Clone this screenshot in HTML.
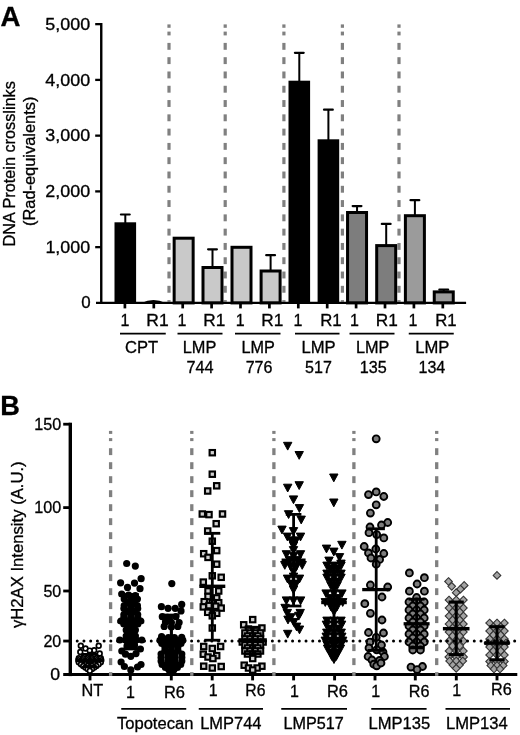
<!DOCTYPE html>
<html lang="en">
<head>
<meta charset="utf-8">
<title>Figure: DNA-protein crosslinks and gamma-H2AX intensity</title>
<style>
html,body{margin:0;padding:0;background:#fff;}
body{width:520px;height:735px;overflow:hidden;}
svg{display:block;}
svg text{font-family:"Liberation Sans",Arial,Helvetica,sans-serif;fill:#000;stroke:#000;stroke-width:0.3px;}
</style>
</head>
<body>
<svg width="520" height="735" viewBox="0 0 520 735">
<rect x="0" y="0" width="520" height="735" fill="#ffffff"/>
<g id="panelA">
<text x="0.46" y="25.70" font-size="27.5" font-weight="bold" textLength="19.94" lengthAdjust="spacingAndGlyphs">A</text>
<g fill="#808080">
<rect x="167.40" y="24.40" width="3.20" height="3.40" fill="#808080"/>
<rect x="167.40" y="31.60" width="3.20" height="3.80" fill="#808080"/>
<rect x="167.40" y="42.90" width="3.20" height="6.90" fill="#808080"/>
<rect x="167.40" y="57.19" width="3.20" height="6.90" fill="#808080"/>
<rect x="167.40" y="71.48" width="3.20" height="6.90" fill="#808080"/>
<rect x="167.40" y="85.77" width="3.20" height="6.90" fill="#808080"/>
<rect x="167.40" y="100.06" width="3.20" height="6.90" fill="#808080"/>
<rect x="167.40" y="114.35" width="3.20" height="6.90" fill="#808080"/>
<rect x="167.40" y="128.64" width="3.20" height="6.90" fill="#808080"/>
<rect x="167.40" y="142.93" width="3.20" height="6.90" fill="#808080"/>
<rect x="167.40" y="157.22" width="3.20" height="6.90" fill="#808080"/>
<rect x="167.40" y="171.51" width="3.20" height="6.90" fill="#808080"/>
<rect x="167.40" y="185.80" width="3.20" height="6.90" fill="#808080"/>
<rect x="167.40" y="200.09" width="3.20" height="6.90" fill="#808080"/>
<rect x="167.40" y="214.38" width="3.20" height="6.90" fill="#808080"/>
<rect x="167.40" y="228.67" width="3.20" height="6.90" fill="#808080"/>
<rect x="167.40" y="242.96" width="3.20" height="6.90" fill="#808080"/>
<rect x="167.40" y="257.25" width="3.20" height="6.90" fill="#808080"/>
<rect x="167.40" y="271.54" width="3.20" height="6.90" fill="#808080"/>
<rect x="167.40" y="285.83" width="3.20" height="6.90" fill="#808080"/>
<rect x="167.40" y="300.12" width="3.20" height="1.68" fill="#808080"/>
</g>
<g fill="#808080">
<rect x="223.60" y="24.40" width="3.20" height="3.40" fill="#808080"/>
<rect x="223.60" y="31.60" width="3.20" height="3.80" fill="#808080"/>
<rect x="223.60" y="42.90" width="3.20" height="6.90" fill="#808080"/>
<rect x="223.60" y="57.19" width="3.20" height="6.90" fill="#808080"/>
<rect x="223.60" y="71.48" width="3.20" height="6.90" fill="#808080"/>
<rect x="223.60" y="85.77" width="3.20" height="6.90" fill="#808080"/>
<rect x="223.60" y="100.06" width="3.20" height="6.90" fill="#808080"/>
<rect x="223.60" y="114.35" width="3.20" height="6.90" fill="#808080"/>
<rect x="223.60" y="128.64" width="3.20" height="6.90" fill="#808080"/>
<rect x="223.60" y="142.93" width="3.20" height="6.90" fill="#808080"/>
<rect x="223.60" y="157.22" width="3.20" height="6.90" fill="#808080"/>
<rect x="223.60" y="171.51" width="3.20" height="6.90" fill="#808080"/>
<rect x="223.60" y="185.80" width="3.20" height="6.90" fill="#808080"/>
<rect x="223.60" y="200.09" width="3.20" height="6.90" fill="#808080"/>
<rect x="223.60" y="214.38" width="3.20" height="6.90" fill="#808080"/>
<rect x="223.60" y="228.67" width="3.20" height="6.90" fill="#808080"/>
<rect x="223.60" y="242.96" width="3.20" height="6.90" fill="#808080"/>
<rect x="223.60" y="257.25" width="3.20" height="6.90" fill="#808080"/>
<rect x="223.60" y="271.54" width="3.20" height="6.90" fill="#808080"/>
<rect x="223.60" y="285.83" width="3.20" height="6.90" fill="#808080"/>
<rect x="223.60" y="300.12" width="3.20" height="1.68" fill="#808080"/>
</g>
<g fill="#808080">
<rect x="282.30" y="24.40" width="3.20" height="3.40" fill="#808080"/>
<rect x="282.30" y="31.60" width="3.20" height="3.80" fill="#808080"/>
<rect x="282.30" y="42.90" width="3.20" height="6.90" fill="#808080"/>
<rect x="282.30" y="57.19" width="3.20" height="6.90" fill="#808080"/>
<rect x="282.30" y="71.48" width="3.20" height="6.90" fill="#808080"/>
<rect x="282.30" y="85.77" width="3.20" height="6.90" fill="#808080"/>
<rect x="282.30" y="100.06" width="3.20" height="6.90" fill="#808080"/>
<rect x="282.30" y="114.35" width="3.20" height="6.90" fill="#808080"/>
<rect x="282.30" y="128.64" width="3.20" height="6.90" fill="#808080"/>
<rect x="282.30" y="142.93" width="3.20" height="6.90" fill="#808080"/>
<rect x="282.30" y="157.22" width="3.20" height="6.90" fill="#808080"/>
<rect x="282.30" y="171.51" width="3.20" height="6.90" fill="#808080"/>
<rect x="282.30" y="185.80" width="3.20" height="6.90" fill="#808080"/>
<rect x="282.30" y="200.09" width="3.20" height="6.90" fill="#808080"/>
<rect x="282.30" y="214.38" width="3.20" height="6.90" fill="#808080"/>
<rect x="282.30" y="228.67" width="3.20" height="6.90" fill="#808080"/>
<rect x="282.30" y="242.96" width="3.20" height="6.90" fill="#808080"/>
<rect x="282.30" y="257.25" width="3.20" height="6.90" fill="#808080"/>
<rect x="282.30" y="271.54" width="3.20" height="6.90" fill="#808080"/>
<rect x="282.30" y="285.83" width="3.20" height="6.90" fill="#808080"/>
<rect x="282.30" y="300.12" width="3.20" height="1.68" fill="#808080"/>
</g>
<g fill="#808080">
<rect x="340.80" y="24.40" width="3.20" height="3.40" fill="#808080"/>
<rect x="340.80" y="31.60" width="3.20" height="3.80" fill="#808080"/>
<rect x="340.80" y="42.90" width="3.20" height="6.90" fill="#808080"/>
<rect x="340.80" y="57.19" width="3.20" height="6.90" fill="#808080"/>
<rect x="340.80" y="71.48" width="3.20" height="6.90" fill="#808080"/>
<rect x="340.80" y="85.77" width="3.20" height="6.90" fill="#808080"/>
<rect x="340.80" y="100.06" width="3.20" height="6.90" fill="#808080"/>
<rect x="340.80" y="114.35" width="3.20" height="6.90" fill="#808080"/>
<rect x="340.80" y="128.64" width="3.20" height="6.90" fill="#808080"/>
<rect x="340.80" y="142.93" width="3.20" height="6.90" fill="#808080"/>
<rect x="340.80" y="157.22" width="3.20" height="6.90" fill="#808080"/>
<rect x="340.80" y="171.51" width="3.20" height="6.90" fill="#808080"/>
<rect x="340.80" y="185.80" width="3.20" height="6.90" fill="#808080"/>
<rect x="340.80" y="200.09" width="3.20" height="6.90" fill="#808080"/>
<rect x="340.80" y="214.38" width="3.20" height="6.90" fill="#808080"/>
<rect x="340.80" y="228.67" width="3.20" height="6.90" fill="#808080"/>
<rect x="340.80" y="242.96" width="3.20" height="6.90" fill="#808080"/>
<rect x="340.80" y="257.25" width="3.20" height="6.90" fill="#808080"/>
<rect x="340.80" y="271.54" width="3.20" height="6.90" fill="#808080"/>
<rect x="340.80" y="285.83" width="3.20" height="6.90" fill="#808080"/>
<rect x="340.80" y="300.12" width="3.20" height="1.68" fill="#808080"/>
</g>
<g fill="#808080">
<rect x="397.40" y="24.40" width="3.20" height="3.40" fill="#808080"/>
<rect x="397.40" y="31.60" width="3.20" height="3.80" fill="#808080"/>
<rect x="397.40" y="42.90" width="3.20" height="6.90" fill="#808080"/>
<rect x="397.40" y="57.19" width="3.20" height="6.90" fill="#808080"/>
<rect x="397.40" y="71.48" width="3.20" height="6.90" fill="#808080"/>
<rect x="397.40" y="85.77" width="3.20" height="6.90" fill="#808080"/>
<rect x="397.40" y="100.06" width="3.20" height="6.90" fill="#808080"/>
<rect x="397.40" y="114.35" width="3.20" height="6.90" fill="#808080"/>
<rect x="397.40" y="128.64" width="3.20" height="6.90" fill="#808080"/>
<rect x="397.40" y="142.93" width="3.20" height="6.90" fill="#808080"/>
<rect x="397.40" y="157.22" width="3.20" height="6.90" fill="#808080"/>
<rect x="397.40" y="171.51" width="3.20" height="6.90" fill="#808080"/>
<rect x="397.40" y="185.80" width="3.20" height="6.90" fill="#808080"/>
<rect x="397.40" y="200.09" width="3.20" height="6.90" fill="#808080"/>
<rect x="397.40" y="214.38" width="3.20" height="6.90" fill="#808080"/>
<rect x="397.40" y="228.67" width="3.20" height="6.90" fill="#808080"/>
<rect x="397.40" y="242.96" width="3.20" height="6.90" fill="#808080"/>
<rect x="397.40" y="257.25" width="3.20" height="6.90" fill="#808080"/>
<rect x="397.40" y="271.54" width="3.20" height="6.90" fill="#808080"/>
<rect x="397.40" y="285.83" width="3.20" height="6.90" fill="#808080"/>
<rect x="397.40" y="300.12" width="3.20" height="1.68" fill="#808080"/>
</g>
<line x1="125.30" y1="214.50" x2="125.30" y2="223.30" stroke="#000" stroke-width="2.0"/>
<line x1="120.90" y1="214.50" x2="129.70" y2="214.50" stroke="#000" stroke-width="2.2" stroke-linecap="round"/>
<rect x="114.50" y="222.30" width="21.60" height="80.60" fill="#000"/>
<path d="M141.5 302.9Q147.5 299.9 153.5 299.9Q159.5 299.9 165.5 302.9Z" fill="#000"/>
<rect x="174.15" y="238.20" width="19.00" height="64.70" fill="#c9c9c9" stroke="#000" stroke-width="3.0"/>
<line x1="212.50" y1="249.30" x2="212.50" y2="267.00" stroke="#000" stroke-width="2.0"/>
<line x1="208.10" y1="249.30" x2="216.90" y2="249.30" stroke="#000" stroke-width="2.2" stroke-linecap="round"/>
<rect x="203.00" y="267.50" width="19.00" height="35.40" fill="#c9c9c9" stroke="#000" stroke-width="3.0"/>
<rect x="232.00" y="247.30" width="19.00" height="55.60" fill="#c9c9c9" stroke="#000" stroke-width="3.0"/>
<line x1="270.60" y1="255.20" x2="270.60" y2="270.50" stroke="#000" stroke-width="2.0"/>
<line x1="266.20" y1="255.20" x2="275.00" y2="255.20" stroke="#000" stroke-width="2.2" stroke-linecap="round"/>
<rect x="261.10" y="271.00" width="19.00" height="31.90" fill="#c9c9c9" stroke="#000" stroke-width="3.0"/>
<line x1="299.30" y1="52.80" x2="299.30" y2="81.70" stroke="#000" stroke-width="2.0"/>
<line x1="294.90" y1="52.80" x2="303.70" y2="52.80" stroke="#000" stroke-width="2.2" stroke-linecap="round"/>
<rect x="288.50" y="80.70" width="21.60" height="222.20" fill="#000"/>
<line x1="328.40" y1="109.70" x2="328.40" y2="140.30" stroke="#000" stroke-width="2.0"/>
<line x1="324.00" y1="109.70" x2="332.80" y2="109.70" stroke="#000" stroke-width="2.2" stroke-linecap="round"/>
<rect x="317.60" y="139.30" width="21.60" height="163.60" fill="#000"/>
<line x1="357.05" y1="206.10" x2="357.05" y2="212.00" stroke="#000" stroke-width="2.0"/>
<line x1="352.65" y1="206.10" x2="361.45" y2="206.10" stroke="#000" stroke-width="2.2" stroke-linecap="round"/>
<rect x="347.55" y="212.50" width="19.00" height="90.40" fill="#7d7d7d" stroke="#000" stroke-width="3.0"/>
<line x1="386.20" y1="223.90" x2="386.20" y2="245.10" stroke="#000" stroke-width="2.0"/>
<line x1="381.80" y1="223.90" x2="390.60" y2="223.90" stroke="#000" stroke-width="2.2" stroke-linecap="round"/>
<rect x="376.70" y="245.60" width="19.00" height="57.30" fill="#7d7d7d" stroke="#000" stroke-width="3.0"/>
<line x1="414.90" y1="200.20" x2="414.90" y2="215.20" stroke="#000" stroke-width="2.0"/>
<line x1="410.50" y1="200.20" x2="419.30" y2="200.20" stroke="#000" stroke-width="2.2" stroke-linecap="round"/>
<rect x="405.40" y="215.70" width="19.00" height="87.20" fill="#9b9b9b" stroke="#000" stroke-width="3.0"/>
<line x1="443.75" y1="289.70" x2="443.75" y2="291.40" stroke="#000" stroke-width="2.0"/>
<line x1="439.35" y1="289.70" x2="448.15" y2="289.70" stroke="#000" stroke-width="2.2" stroke-linecap="round"/>
<rect x="434.25" y="291.90" width="19.00" height="11.00" fill="#9b9b9b" stroke="#000" stroke-width="3.0"/>
<line x1="101.25" y1="23.00" x2="101.25" y2="304.10" stroke="#000" stroke-width="2.4"/>
<line x1="96.00" y1="302.90" x2="466.10" y2="302.90" stroke="#000" stroke-width="2.4"/>
<line x1="95.20" y1="247.15" x2="101.25" y2="247.15" stroke="#000" stroke-width="2.3"/>
<line x1="95.20" y1="191.40" x2="101.25" y2="191.40" stroke="#000" stroke-width="2.3"/>
<line x1="95.20" y1="135.65" x2="101.25" y2="135.65" stroke="#000" stroke-width="2.3"/>
<line x1="95.20" y1="79.90" x2="101.25" y2="79.90" stroke="#000" stroke-width="2.3"/>
<line x1="95.20" y1="24.15" x2="101.25" y2="24.15" stroke="#000" stroke-width="2.3"/>
<line x1="124.90" y1="302.90" x2="124.90" y2="308.40" stroke="#000" stroke-width="2.7"/>
<line x1="153.80" y1="302.90" x2="153.80" y2="308.40" stroke="#000" stroke-width="2.7"/>
<line x1="182.70" y1="302.90" x2="182.70" y2="308.40" stroke="#000" stroke-width="2.7"/>
<line x1="211.60" y1="302.90" x2="211.60" y2="308.40" stroke="#000" stroke-width="2.7"/>
<line x1="240.50" y1="302.90" x2="240.50" y2="308.40" stroke="#000" stroke-width="2.7"/>
<line x1="269.40" y1="302.90" x2="269.40" y2="308.40" stroke="#000" stroke-width="2.7"/>
<line x1="298.30" y1="302.90" x2="298.30" y2="308.40" stroke="#000" stroke-width="2.7"/>
<line x1="327.20" y1="302.90" x2="327.20" y2="308.40" stroke="#000" stroke-width="2.7"/>
<line x1="356.10" y1="302.90" x2="356.10" y2="308.40" stroke="#000" stroke-width="2.7"/>
<line x1="385.00" y1="302.90" x2="385.00" y2="308.40" stroke="#000" stroke-width="2.7"/>
<line x1="413.90" y1="302.90" x2="413.90" y2="308.40" stroke="#000" stroke-width="2.7"/>
<line x1="442.80" y1="302.90" x2="442.80" y2="308.40" stroke="#000" stroke-width="2.7"/>
<text x="81.28" y="308.30" font-size="16" textLength="9.39" lengthAdjust="spacingAndGlyphs">0</text>
<text x="45.41" y="252.85" font-size="16" textLength="44.71" lengthAdjust="spacingAndGlyphs">1,000</text>
<text x="45.39" y="197.10" font-size="16" textLength="44.73" lengthAdjust="spacingAndGlyphs">2,000</text>
<text x="45.39" y="141.35" font-size="16" textLength="44.73" lengthAdjust="spacingAndGlyphs">3,000</text>
<text x="45.39" y="85.60" font-size="16" textLength="44.73" lengthAdjust="spacingAndGlyphs">4,000</text>
<text x="45.39" y="29.85" font-size="16" textLength="44.73" lengthAdjust="spacingAndGlyphs">5,000</text>
<text transform="translate(15.30,245.30) rotate(-90)" x="-1.30" y="0" font-size="16" textLength="165.47" lengthAdjust="spacingAndGlyphs">DNA Protein crosslinks</text>
<text transform="translate(34.60,225.00) rotate(-90)" x="-0.98" y="0" font-size="16" textLength="129.31" lengthAdjust="spacingAndGlyphs">(Rad-equivalents)</text>
<text x="120.52" y="325.75" font-size="16" textLength="8.90" lengthAdjust="spacingAndGlyphs">1</text>
<text x="177.39" y="325.75" font-size="16" textLength="8.90" lengthAdjust="spacingAndGlyphs">1</text>
<text x="235.64" y="325.75" font-size="16" textLength="8.90" lengthAdjust="spacingAndGlyphs">1</text>
<text x="293.39" y="325.75" font-size="16" textLength="8.90" lengthAdjust="spacingAndGlyphs">1</text>
<text x="349.89" y="325.75" font-size="16" textLength="8.90" lengthAdjust="spacingAndGlyphs">1</text>
<text x="408.39" y="325.75" font-size="16" textLength="8.90" lengthAdjust="spacingAndGlyphs">1</text>
<text x="146.35" y="325.75" font-size="16" textLength="22.35" lengthAdjust="spacingAndGlyphs">R1</text>
<text x="203.37" y="325.75" font-size="16" textLength="22.03" lengthAdjust="spacingAndGlyphs">R1</text>
<text x="261.37" y="325.75" font-size="16" textLength="22.03" lengthAdjust="spacingAndGlyphs">R1</text>
<text x="320.16" y="325.75" font-size="16" textLength="21.40" lengthAdjust="spacingAndGlyphs">R1</text>
<text x="375.87" y="325.75" font-size="16" textLength="22.03" lengthAdjust="spacingAndGlyphs">R1</text>
<text x="435.16" y="325.75" font-size="16" textLength="21.40" lengthAdjust="spacingAndGlyphs">R1</text>
<line x1="120.00" y1="333.60" x2="165.75" y2="333.60" stroke="#000" stroke-width="1.7"/>
<line x1="177.50" y1="333.60" x2="222.50" y2="333.60" stroke="#000" stroke-width="1.7"/>
<line x1="235.00" y1="333.60" x2="280.50" y2="333.60" stroke="#000" stroke-width="1.7"/>
<line x1="295.00" y1="333.60" x2="339.50" y2="333.60" stroke="#000" stroke-width="1.7"/>
<line x1="349.50" y1="333.60" x2="394.50" y2="333.60" stroke="#000" stroke-width="1.7"/>
<line x1="408.75" y1="333.60" x2="453.75" y2="333.60" stroke="#000" stroke-width="1.7"/>
<text x="124.92" y="352.60" font-size="16" textLength="33.16" lengthAdjust="spacingAndGlyphs">CPT</text>
<text x="182.69" y="352.60" font-size="16" textLength="33.65" lengthAdjust="spacingAndGlyphs">LMP</text>
<text x="241.45" y="352.60" font-size="16" textLength="33.38" lengthAdjust="spacingAndGlyphs">LMP</text>
<text x="301.42" y="352.60" font-size="16" textLength="34.18" lengthAdjust="spacingAndGlyphs">LMP</text>
<text x="355.95" y="352.60" font-size="16" textLength="33.38" lengthAdjust="spacingAndGlyphs">LMP</text>
<text x="415.17" y="352.60" font-size="16" textLength="34.18" lengthAdjust="spacingAndGlyphs">LMP</text>
<text x="186.44" y="372.50" font-size="16" textLength="27.11" lengthAdjust="spacingAndGlyphs">744</text>
<text x="245.70" y="372.50" font-size="16" textLength="26.75" lengthAdjust="spacingAndGlyphs">776</text>
<text x="305.11" y="372.50" font-size="16" textLength="26.75" lengthAdjust="spacingAndGlyphs">517</text>
<text x="359.74" y="372.50" font-size="16" textLength="26.96" lengthAdjust="spacingAndGlyphs">135</text>
<text x="418.50" y="372.50" font-size="16" textLength="26.79" lengthAdjust="spacingAndGlyphs">134</text>
</g>
<g id="panelB">
<text x="0.28" y="414.50" font-size="27.5" font-weight="bold" textLength="19.65" lengthAdjust="spacingAndGlyphs">B</text>
<g fill="#808080">
<rect x="108.95" y="430.90" width="3.30" height="3.00" fill="#808080"/>
<rect x="108.95" y="438.10" width="3.30" height="3.00" fill="#808080"/>
<rect x="108.95" y="448.20" width="3.30" height="6.90" fill="#808080"/>
<rect x="108.95" y="462.20" width="3.30" height="6.90" fill="#808080"/>
<rect x="108.95" y="476.20" width="3.30" height="6.90" fill="#808080"/>
<rect x="108.95" y="490.20" width="3.30" height="6.90" fill="#808080"/>
<rect x="108.95" y="504.20" width="3.30" height="6.90" fill="#808080"/>
<rect x="108.95" y="518.20" width="3.30" height="6.90" fill="#808080"/>
<rect x="108.95" y="532.20" width="3.30" height="6.90" fill="#808080"/>
<rect x="108.95" y="546.20" width="3.30" height="6.90" fill="#808080"/>
<rect x="108.95" y="560.20" width="3.30" height="6.90" fill="#808080"/>
<rect x="108.95" y="574.20" width="3.30" height="6.90" fill="#808080"/>
<rect x="108.95" y="588.20" width="3.30" height="6.90" fill="#808080"/>
<rect x="108.95" y="602.20" width="3.30" height="6.90" fill="#808080"/>
<rect x="108.95" y="616.20" width="3.30" height="6.90" fill="#808080"/>
<rect x="108.95" y="630.20" width="3.30" height="6.90" fill="#808080"/>
<rect x="108.95" y="644.20" width="3.30" height="6.90" fill="#808080"/>
<rect x="108.95" y="658.20" width="3.30" height="6.90" fill="#808080"/>
<rect x="108.95" y="672.20" width="3.30" height="0.70" fill="#808080"/>
</g>
<g fill="#808080">
<rect x="190.15" y="430.90" width="3.30" height="3.00" fill="#808080"/>
<rect x="190.15" y="438.10" width="3.30" height="3.00" fill="#808080"/>
<rect x="190.15" y="448.20" width="3.30" height="6.90" fill="#808080"/>
<rect x="190.15" y="462.20" width="3.30" height="6.90" fill="#808080"/>
<rect x="190.15" y="476.20" width="3.30" height="6.90" fill="#808080"/>
<rect x="190.15" y="490.20" width="3.30" height="6.90" fill="#808080"/>
<rect x="190.15" y="504.20" width="3.30" height="6.90" fill="#808080"/>
<rect x="190.15" y="518.20" width="3.30" height="6.90" fill="#808080"/>
<rect x="190.15" y="532.20" width="3.30" height="6.90" fill="#808080"/>
<rect x="190.15" y="546.20" width="3.30" height="6.90" fill="#808080"/>
<rect x="190.15" y="560.20" width="3.30" height="6.90" fill="#808080"/>
<rect x="190.15" y="574.20" width="3.30" height="6.90" fill="#808080"/>
<rect x="190.15" y="588.20" width="3.30" height="6.90" fill="#808080"/>
<rect x="190.15" y="602.20" width="3.30" height="6.90" fill="#808080"/>
<rect x="190.15" y="616.20" width="3.30" height="6.90" fill="#808080"/>
<rect x="190.15" y="630.20" width="3.30" height="6.90" fill="#808080"/>
<rect x="190.15" y="644.20" width="3.30" height="6.90" fill="#808080"/>
<rect x="190.15" y="658.20" width="3.30" height="6.90" fill="#808080"/>
<rect x="190.15" y="672.20" width="3.30" height="0.70" fill="#808080"/>
</g>
<g fill="#808080">
<rect x="272.25" y="430.90" width="3.30" height="3.00" fill="#808080"/>
<rect x="272.25" y="438.10" width="3.30" height="3.00" fill="#808080"/>
<rect x="272.25" y="448.20" width="3.30" height="6.90" fill="#808080"/>
<rect x="272.25" y="462.20" width="3.30" height="6.90" fill="#808080"/>
<rect x="272.25" y="476.20" width="3.30" height="6.90" fill="#808080"/>
<rect x="272.25" y="490.20" width="3.30" height="6.90" fill="#808080"/>
<rect x="272.25" y="504.20" width="3.30" height="6.90" fill="#808080"/>
<rect x="272.25" y="518.20" width="3.30" height="6.90" fill="#808080"/>
<rect x="272.25" y="532.20" width="3.30" height="6.90" fill="#808080"/>
<rect x="272.25" y="546.20" width="3.30" height="6.90" fill="#808080"/>
<rect x="272.25" y="560.20" width="3.30" height="6.90" fill="#808080"/>
<rect x="272.25" y="574.20" width="3.30" height="6.90" fill="#808080"/>
<rect x="272.25" y="588.20" width="3.30" height="6.90" fill="#808080"/>
<rect x="272.25" y="602.20" width="3.30" height="6.90" fill="#808080"/>
<rect x="272.25" y="616.20" width="3.30" height="6.90" fill="#808080"/>
<rect x="272.25" y="630.20" width="3.30" height="6.90" fill="#808080"/>
<rect x="272.25" y="644.20" width="3.30" height="6.90" fill="#808080"/>
<rect x="272.25" y="658.20" width="3.30" height="6.90" fill="#808080"/>
<rect x="272.25" y="672.20" width="3.30" height="0.70" fill="#808080"/>
</g>
<g fill="#808080">
<rect x="352.25" y="430.90" width="3.30" height="3.00" fill="#808080"/>
<rect x="352.25" y="438.10" width="3.30" height="3.00" fill="#808080"/>
<rect x="352.25" y="448.20" width="3.30" height="6.90" fill="#808080"/>
<rect x="352.25" y="462.20" width="3.30" height="6.90" fill="#808080"/>
<rect x="352.25" y="476.20" width="3.30" height="6.90" fill="#808080"/>
<rect x="352.25" y="490.20" width="3.30" height="6.90" fill="#808080"/>
<rect x="352.25" y="504.20" width="3.30" height="6.90" fill="#808080"/>
<rect x="352.25" y="518.20" width="3.30" height="6.90" fill="#808080"/>
<rect x="352.25" y="532.20" width="3.30" height="6.90" fill="#808080"/>
<rect x="352.25" y="546.20" width="3.30" height="6.90" fill="#808080"/>
<rect x="352.25" y="560.20" width="3.30" height="6.90" fill="#808080"/>
<rect x="352.25" y="574.20" width="3.30" height="6.90" fill="#808080"/>
<rect x="352.25" y="588.20" width="3.30" height="6.90" fill="#808080"/>
<rect x="352.25" y="602.20" width="3.30" height="6.90" fill="#808080"/>
<rect x="352.25" y="616.20" width="3.30" height="6.90" fill="#808080"/>
<rect x="352.25" y="630.20" width="3.30" height="6.90" fill="#808080"/>
<rect x="352.25" y="644.20" width="3.30" height="6.90" fill="#808080"/>
<rect x="352.25" y="658.20" width="3.30" height="6.90" fill="#808080"/>
<rect x="352.25" y="672.20" width="3.30" height="0.70" fill="#808080"/>
</g>
<g fill="#808080">
<rect x="435.05" y="430.90" width="3.30" height="3.00" fill="#808080"/>
<rect x="435.05" y="438.10" width="3.30" height="3.00" fill="#808080"/>
<rect x="435.05" y="448.20" width="3.30" height="6.90" fill="#808080"/>
<rect x="435.05" y="462.20" width="3.30" height="6.90" fill="#808080"/>
<rect x="435.05" y="476.20" width="3.30" height="6.90" fill="#808080"/>
<rect x="435.05" y="490.20" width="3.30" height="6.90" fill="#808080"/>
<rect x="435.05" y="504.20" width="3.30" height="6.90" fill="#808080"/>
<rect x="435.05" y="518.20" width="3.30" height="6.90" fill="#808080"/>
<rect x="435.05" y="532.20" width="3.30" height="6.90" fill="#808080"/>
<rect x="435.05" y="546.20" width="3.30" height="6.90" fill="#808080"/>
<rect x="435.05" y="560.20" width="3.30" height="6.90" fill="#808080"/>
<rect x="435.05" y="574.20" width="3.30" height="6.90" fill="#808080"/>
<rect x="435.05" y="588.20" width="3.30" height="6.90" fill="#808080"/>
<rect x="435.05" y="602.20" width="3.30" height="6.90" fill="#808080"/>
<rect x="435.05" y="616.20" width="3.30" height="6.90" fill="#808080"/>
<rect x="435.05" y="630.20" width="3.30" height="6.90" fill="#808080"/>
<rect x="435.05" y="644.20" width="3.30" height="6.90" fill="#808080"/>
<rect x="435.05" y="658.20" width="3.30" height="6.90" fill="#808080"/>
<rect x="435.05" y="672.20" width="3.30" height="0.70" fill="#808080"/>
</g>
<g fill="#fff" stroke="#000" stroke-width="1.7">
<circle cx="80.8" cy="645.7" r="2.35"/>
<circle cx="98.7" cy="645.7" r="2.35"/>
<circle cx="85.5" cy="648.5" r="2.35"/>
<circle cx="94.2" cy="650.2" r="2.35"/>
<circle cx="89.7" cy="650.6" r="2.35"/>
<circle cx="80.3" cy="652.0" r="2.35"/>
<circle cx="99.7" cy="653.4" r="2.35"/>
<circle cx="84.1" cy="656.5" r="2.35"/>
<circle cx="94.2" cy="656.8" r="2.35"/>
<circle cx="89.7" cy="655.0" r="2.35"/>
<circle cx="78.8" cy="658.3" r="2.35"/>
<circle cx="83.2" cy="658.3" r="2.35"/>
<circle cx="87.6" cy="658.3" r="2.35"/>
<circle cx="92.0" cy="658.3" r="2.35"/>
<circle cx="96.4" cy="658.3" r="2.35"/>
<circle cx="100.8" cy="658.3" r="2.35"/>
<circle cx="78.3" cy="660.2" r="2.35"/>
<circle cx="82.9" cy="660.2" r="2.35"/>
<circle cx="87.5" cy="660.2" r="2.35"/>
<circle cx="92.1" cy="660.2" r="2.35"/>
<circle cx="96.7" cy="660.2" r="2.35"/>
<circle cx="101.3" cy="660.2" r="2.35"/>
<circle cx="78.8" cy="662.2" r="2.35"/>
<circle cx="83.2" cy="662.2" r="2.35"/>
<circle cx="87.6" cy="662.2" r="2.35"/>
<circle cx="92.0" cy="662.2" r="2.35"/>
<circle cx="96.4" cy="662.2" r="2.35"/>
<circle cx="100.8" cy="662.2" r="2.35"/>
<circle cx="81.0" cy="664.2" r="2.35"/>
<circle cx="85.4" cy="664.2" r="2.35"/>
<circle cx="89.8" cy="664.2" r="2.35"/>
<circle cx="94.2" cy="664.2" r="2.35"/>
<circle cx="98.6" cy="664.2" r="2.35"/>
<circle cx="83.2" cy="666.0" r="2.35"/>
<circle cx="87.6" cy="666.0" r="2.35"/>
<circle cx="92.0" cy="666.0" r="2.35"/>
<circle cx="96.4" cy="666.0" r="2.35"/>
<circle cx="85.4" cy="667.6" r="2.35"/>
<circle cx="89.8" cy="667.6" r="2.35"/>
<circle cx="94.2" cy="667.6" r="2.35"/>
<circle cx="87.6" cy="669.0" r="2.35"/>
<circle cx="92.0" cy="669.0" r="2.35"/>
<circle cx="89.8" cy="670.7" r="2.35"/>
</g>
<line x1="89.80" y1="654.20" x2="89.80" y2="667.00" stroke="#000" stroke-width="2.4"/>
<line x1="81.80" y1="654.20" x2="97.80" y2="654.20" stroke="#000" stroke-width="2.4"/>
<line x1="81.80" y1="667.00" x2="97.80" y2="667.00" stroke="#000" stroke-width="2.4"/>
<line x1="76.50" y1="660.60" x2="103.10" y2="660.60" stroke="#000" stroke-width="3.0"/>
<g fill="#000">
<circle cx="126.7" cy="563.5" r="3.6"/>
<circle cx="135.3" cy="566.1" r="3.6"/>
<circle cx="141.1" cy="578.7" r="3.6"/>
<circle cx="120.6" cy="582.8" r="3.6"/>
<circle cx="134.5" cy="583.1" r="3.6"/>
<circle cx="127.5" cy="587.4" r="3.6"/>
<circle cx="140.0" cy="588.7" r="3.6"/>
<circle cx="121.7" cy="594.0" r="3.6"/>
<circle cx="128.6" cy="595.0" r="3.6"/>
<circle cx="135.3" cy="595.5" r="3.6"/>
<circle cx="124.2" cy="599.0" r="3.6"/>
<circle cx="130.8" cy="599.0" r="3.6"/>
<circle cx="137.4" cy="599.0" r="3.6"/>
<circle cx="127.5" cy="602.5" r="3.6"/>
<circle cx="134.1" cy="602.5" r="3.6"/>
<circle cx="124.2" cy="605.5" r="3.6"/>
<circle cx="130.8" cy="605.5" r="3.6"/>
<circle cx="137.4" cy="605.5" r="3.6"/>
<circle cx="123.9" cy="608.5" r="3.6"/>
<circle cx="130.8" cy="608.5" r="3.6"/>
<circle cx="137.7" cy="608.5" r="3.6"/>
<circle cx="127.5" cy="611.5" r="3.6"/>
<circle cx="134.1" cy="611.5" r="3.6"/>
<circle cx="123.9" cy="614.5" r="3.6"/>
<circle cx="130.8" cy="614.5" r="3.6"/>
<circle cx="137.7" cy="614.5" r="3.6"/>
<circle cx="123.9" cy="617.5" r="3.6"/>
<circle cx="130.8" cy="617.5" r="3.6"/>
<circle cx="137.7" cy="617.5" r="3.6"/>
<circle cx="120.9" cy="621.0" r="3.6"/>
<circle cx="127.5" cy="621.0" r="3.6"/>
<circle cx="134.1" cy="621.0" r="3.6"/>
<circle cx="140.7" cy="621.0" r="3.6"/>
<circle cx="123.8" cy="624.0" r="3.6"/>
<circle cx="130.8" cy="624.0" r="3.6"/>
<circle cx="137.8" cy="624.0" r="3.6"/>
<circle cx="127.8" cy="627.0" r="3.6"/>
<circle cx="133.8" cy="627.0" r="3.6"/>
<circle cx="126.2" cy="630.0" r="3.6"/>
<circle cx="130.8" cy="630.0" r="3.6"/>
<circle cx="135.4" cy="630.0" r="3.6"/>
<circle cx="127.8" cy="633.0" r="3.6"/>
<circle cx="133.8" cy="633.0" r="3.6"/>
<circle cx="126.2" cy="636.0" r="3.6"/>
<circle cx="130.8" cy="636.0" r="3.6"/>
<circle cx="135.4" cy="636.0" r="3.6"/>
<circle cx="119.8" cy="640.0" r="3.6"/>
<circle cx="125.3" cy="640.0" r="3.6"/>
<circle cx="130.8" cy="640.0" r="3.6"/>
<circle cx="136.3" cy="640.0" r="3.6"/>
<circle cx="141.8" cy="640.0" r="3.6"/>
<circle cx="127.8" cy="643.5" r="3.6"/>
<circle cx="133.8" cy="643.5" r="3.6"/>
<circle cx="127.0" cy="646.0" r="3.6"/>
<circle cx="134.5" cy="645.2" r="3.6"/>
<circle cx="121.8" cy="651.0" r="3.6"/>
<circle cx="140.4" cy="649.0" r="3.6"/>
<circle cx="125.5" cy="654.2" r="3.6"/>
<circle cx="136.0" cy="653.6" r="3.6"/>
<circle cx="130.8" cy="656.3" r="3.6"/>
<circle cx="121.1" cy="662.0" r="3.6"/>
<circle cx="141.0" cy="664.5" r="3.6"/>
<circle cx="124.4" cy="666.5" r="3.6"/>
<circle cx="137.5" cy="667.0" r="3.6"/>
<circle cx="130.8" cy="669.9" r="3.6"/>
</g>
<line x1="130.80" y1="594.50" x2="130.80" y2="649.00" stroke="#000" stroke-width="2.8"/>
<line x1="122.80" y1="594.50" x2="138.80" y2="594.50" stroke="#000" stroke-width="2.8"/>
<line x1="122.80" y1="649.00" x2="138.80" y2="649.00" stroke="#000" stroke-width="2.8"/>
<line x1="117.40" y1="621.70" x2="144.20" y2="621.70" stroke="#000" stroke-width="3.2"/>
<g fill="#000">
<circle cx="171.8" cy="583.6" r="3.6"/>
<circle cx="181.7" cy="604.4" r="3.6"/>
<circle cx="161.4" cy="606.7" r="3.6"/>
<circle cx="168.1" cy="608.3" r="3.6"/>
<circle cx="175.2" cy="608.3" r="3.6"/>
<circle cx="181.0" cy="610.9" r="3.6"/>
<circle cx="162.3" cy="616.7" r="3.6"/>
<circle cx="167.5" cy="617.3" r="3.6"/>
<circle cx="175.9" cy="616.7" r="3.6"/>
<circle cx="165.5" cy="621.9" r="3.6"/>
<circle cx="171.4" cy="622.5" r="3.6"/>
<circle cx="179.1" cy="622.5" r="3.6"/>
<circle cx="164.2" cy="626.4" r="3.6"/>
<circle cx="171.4" cy="627.0" r="3.6"/>
<circle cx="177.8" cy="626.4" r="3.6"/>
<circle cx="161.6" cy="636.7" r="3.6"/>
<circle cx="181.7" cy="637.4" r="3.6"/>
<circle cx="168.4" cy="637.5" r="3.6"/>
<circle cx="174.4" cy="637.5" r="3.6"/>
<circle cx="160.0" cy="640.3" r="3.6"/>
<circle cx="165.7" cy="640.3" r="3.6"/>
<circle cx="171.4" cy="640.3" r="3.6"/>
<circle cx="177.1" cy="640.3" r="3.6"/>
<circle cx="182.8" cy="640.3" r="3.6"/>
<circle cx="161.8" cy="643.5" r="3.6"/>
<circle cx="168.2" cy="643.5" r="3.6"/>
<circle cx="174.6" cy="643.5" r="3.6"/>
<circle cx="181.0" cy="643.5" r="3.6"/>
<circle cx="164.9" cy="647.0" r="3.6"/>
<circle cx="171.4" cy="647.0" r="3.6"/>
<circle cx="177.9" cy="647.0" r="3.6"/>
<circle cx="164.9" cy="650.5" r="3.6"/>
<circle cx="171.4" cy="650.5" r="3.6"/>
<circle cx="177.9" cy="650.5" r="3.6"/>
<circle cx="161.1" cy="654.0" r="3.6"/>
<circle cx="168.0" cy="654.0" r="3.6"/>
<circle cx="174.8" cy="654.0" r="3.6"/>
<circle cx="181.8" cy="654.0" r="3.6"/>
<circle cx="161.1" cy="657.5" r="3.6"/>
<circle cx="168.0" cy="657.5" r="3.6"/>
<circle cx="174.8" cy="657.5" r="3.6"/>
<circle cx="181.8" cy="657.5" r="3.6"/>
<circle cx="161.1" cy="661.0" r="3.6"/>
<circle cx="168.0" cy="661.0" r="3.6"/>
<circle cx="174.8" cy="661.0" r="3.6"/>
<circle cx="181.8" cy="661.0" r="3.6"/>
<circle cx="162.1" cy="664.5" r="3.6"/>
<circle cx="168.3" cy="664.5" r="3.6"/>
<circle cx="174.5" cy="664.5" r="3.6"/>
<circle cx="180.7" cy="664.5" r="3.6"/>
<circle cx="165.4" cy="667.5" r="3.6"/>
<circle cx="171.4" cy="667.5" r="3.6"/>
<circle cx="177.4" cy="667.5" r="3.6"/>
<circle cx="168.9" cy="669.8" r="3.6"/>
<circle cx="173.9" cy="669.8" r="3.6"/>
<circle cx="171.4" cy="671.2" r="3.6"/>
</g>
<line x1="171.40" y1="615.20" x2="171.40" y2="665.40" stroke="#000" stroke-width="3.1"/>
<line x1="163.40" y1="615.20" x2="179.40" y2="615.20" stroke="#000" stroke-width="3.1"/>
<line x1="163.40" y1="665.40" x2="179.40" y2="665.40" stroke="#000" stroke-width="3.1"/>
<line x1="157.10" y1="640.30" x2="185.70" y2="640.30" stroke="#000" stroke-width="3.2"/>
<g fill="#cfcfcf" stroke="#000" stroke-width="2.1">
<rect x="209.6" y="450.0" width="5.4" height="5.4"/>
<rect x="209.6" y="471.5" width="5.4" height="5.4"/>
<rect x="214.0" y="483.1" width="5.4" height="5.4"/>
<rect x="205.0" y="488.3" width="5.4" height="5.4"/>
<rect x="199.6" y="511.3" width="5.4" height="5.4"/>
<rect x="206.3" y="511.9" width="5.4" height="5.4"/>
<rect x="219.8" y="511.3" width="5.4" height="5.4"/>
<rect x="213.5" y="521.0" width="5.4" height="5.4"/>
<rect x="205.0" y="528.3" width="5.4" height="5.4"/>
<rect x="209.6" y="538.5" width="5.4" height="5.4"/>
<rect x="214.0" y="547.9" width="5.4" height="5.4"/>
<rect x="201.0" y="551.0" width="5.4" height="5.4"/>
<rect x="205.3" y="554.7" width="5.4" height="5.4"/>
<rect x="214.0" y="561.5" width="5.4" height="5.4"/>
<rect x="209.6" y="573.1" width="5.4" height="5.4"/>
<rect x="218.5" y="574.6" width="5.4" height="5.4"/>
<rect x="200.6" y="579.4" width="5.4" height="5.4"/>
<rect x="205.3" y="588.3" width="5.4" height="5.4"/>
<rect x="216.0" y="588.3" width="5.4" height="5.4"/>
<rect x="205.3" y="593.8" width="5.4" height="5.4"/>
<rect x="214.0" y="595.2" width="5.4" height="5.4"/>
<rect x="201.5" y="599.0" width="5.4" height="5.4"/>
<rect x="209.6" y="600.0" width="5.4" height="5.4"/>
<rect x="216.0" y="600.0" width="5.4" height="5.4"/>
<rect x="200.6" y="604.2" width="5.4" height="5.4"/>
<rect x="206.3" y="602.9" width="5.4" height="5.4"/>
<rect x="213.1" y="603.5" width="5.4" height="5.4"/>
<rect x="218.5" y="605.4" width="5.4" height="5.4"/>
<rect x="205.0" y="609.6" width="5.4" height="5.4"/>
<rect x="214.0" y="610.6" width="5.4" height="5.4"/>
<rect x="209.6" y="613.1" width="5.4" height="5.4"/>
<rect x="209.6" y="625.3" width="5.4" height="5.4"/>
<rect x="201.0" y="643.8" width="5.4" height="5.4"/>
<rect x="209.6" y="645.8" width="5.4" height="5.4"/>
<rect x="217.9" y="643.8" width="5.4" height="5.4"/>
<rect x="200.6" y="651.5" width="5.4" height="5.4"/>
<rect x="214.0" y="652.9" width="5.4" height="5.4"/>
<rect x="205.3" y="654.3" width="5.4" height="5.4"/>
<rect x="210.2" y="655.8" width="5.4" height="5.4"/>
<rect x="201.0" y="663.5" width="5.4" height="5.4"/>
<rect x="209.6" y="665.3" width="5.4" height="5.4"/>
<rect x="218.5" y="663.8" width="5.4" height="5.4"/>
</g>
<line x1="212.30" y1="533.30" x2="212.30" y2="640.20" stroke="#000" stroke-width="2.8"/>
<line x1="204.30" y1="533.30" x2="220.30" y2="533.30" stroke="#000" stroke-width="2.8"/>
<line x1="204.30" y1="640.20" x2="220.30" y2="640.20" stroke="#000" stroke-width="2.8"/>
<line x1="199.30" y1="586.30" x2="225.30" y2="586.30" stroke="#000" stroke-width="3.4"/>
<g fill="#cfcfcf" stroke="#000" stroke-width="2.1">
<rect x="250.0" y="616.9" width="5.4" height="5.4"/>
<rect x="241.0" y="622.1" width="5.4" height="5.4"/>
<rect x="259.2" y="625.3" width="5.4" height="5.4"/>
<rect x="245.8" y="626.3" width="5.4" height="5.4"/>
<rect x="253.5" y="626.9" width="5.4" height="5.4"/>
<rect x="242.2" y="630.3" width="5.4" height="5.4"/>
<rect x="247.4" y="630.3" width="5.4" height="5.4"/>
<rect x="252.6" y="630.3" width="5.4" height="5.4"/>
<rect x="257.8" y="630.3" width="5.4" height="5.4"/>
<rect x="244.8" y="633.3" width="5.4" height="5.4"/>
<rect x="250.0" y="633.3" width="5.4" height="5.4"/>
<rect x="255.2" y="633.3" width="5.4" height="5.4"/>
<rect x="242.2" y="636.3" width="5.4" height="5.4"/>
<rect x="247.4" y="636.3" width="5.4" height="5.4"/>
<rect x="252.6" y="636.3" width="5.4" height="5.4"/>
<rect x="257.8" y="636.3" width="5.4" height="5.4"/>
<rect x="239.6" y="639.3" width="5.4" height="5.4"/>
<rect x="244.8" y="639.3" width="5.4" height="5.4"/>
<rect x="250.0" y="639.3" width="5.4" height="5.4"/>
<rect x="255.2" y="639.3" width="5.4" height="5.4"/>
<rect x="260.4" y="639.3" width="5.4" height="5.4"/>
<rect x="242.2" y="642.3" width="5.4" height="5.4"/>
<rect x="247.4" y="642.3" width="5.4" height="5.4"/>
<rect x="252.6" y="642.3" width="5.4" height="5.4"/>
<rect x="257.8" y="642.3" width="5.4" height="5.4"/>
<rect x="244.8" y="645.3" width="5.4" height="5.4"/>
<rect x="250.0" y="645.3" width="5.4" height="5.4"/>
<rect x="255.2" y="645.3" width="5.4" height="5.4"/>
<rect x="242.2" y="648.3" width="5.4" height="5.4"/>
<rect x="247.4" y="648.3" width="5.4" height="5.4"/>
<rect x="252.6" y="648.3" width="5.4" height="5.4"/>
<rect x="257.8" y="648.3" width="5.4" height="5.4"/>
<rect x="244.8" y="651.3" width="5.4" height="5.4"/>
<rect x="250.0" y="651.3" width="5.4" height="5.4"/>
<rect x="255.2" y="651.3" width="5.4" height="5.4"/>
<rect x="250.0" y="655.8" width="5.4" height="5.4"/>
<rect x="241.5" y="662.5" width="5.4" height="5.4"/>
<rect x="259.2" y="663.5" width="5.4" height="5.4"/>
<rect x="245.8" y="665.3" width="5.4" height="5.4"/>
<rect x="254.4" y="665.3" width="5.4" height="5.4"/>
<rect x="250.0" y="667.3" width="5.4" height="5.4"/>
</g>
<line x1="252.70" y1="627.50" x2="252.70" y2="653.70" stroke="#000" stroke-width="2.8"/>
<line x1="244.70" y1="627.50" x2="260.70" y2="627.50" stroke="#000" stroke-width="2.8"/>
<line x1="244.70" y1="653.70" x2="260.70" y2="653.70" stroke="#000" stroke-width="2.8"/>
<line x1="239.70" y1="640.60" x2="265.70" y2="640.60" stroke="#000" stroke-width="3.4"/>
<g fill="#000" stroke="#000" stroke-width="1" stroke-linejoin="round">
<path d="M283.5 442.3h8.4l-4.2 7.8z"/>
<path d="M295.0 451.5h8.4l-4.2 7.8z"/>
<path d="M295.0 481.7h8.4l-4.2 7.8z"/>
<path d="M283.5 484.2h8.4l-4.2 7.8z"/>
<path d="M289.3 495.9h8.4l-4.2 7.8z"/>
<path d="M295.2 504.6h8.4l-4.2 7.8z"/>
<path d="M284.4 510.7h8.4l-4.2 7.8z"/>
<path d="M297.0 516.1h8.4l-4.2 7.8z"/>
<path d="M277.8 526.1h8.4l-4.2 7.8z"/>
<path d="M289.3 527.6h8.4l-4.2 7.8z"/>
<path d="M283.2 533.1h8.4l-4.2 7.8z"/>
<path d="M296.3 533.1h8.4l-4.2 7.8z"/>
<path d="M287.0 536.9h8.4l-4.2 7.8z"/>
<path d="M291.6 536.9h8.4l-4.2 7.8z"/>
<path d="M289.3 542.1h8.4l-4.2 7.8z"/>
<path d="M289.3 546.6h8.4l-4.2 7.8z"/>
<path d="M282.2 550.7h8.4l-4.2 7.8z"/>
<path d="M296.3 550.7h8.4l-4.2 7.8z"/>
<path d="M289.3 552.6h8.4l-4.2 7.8z"/>
<path d="M285.3 556.6h8.4l-4.2 7.8z"/>
<path d="M293.3 556.6h8.4l-4.2 7.8z"/>
<path d="M280.6 561.5h8.4l-4.2 7.8z"/>
<path d="M298.0 561.5h8.4l-4.2 7.8z"/>
<path d="M286.3 562.6h8.4l-4.2 7.8z"/>
<path d="M292.3 562.6h8.4l-4.2 7.8z"/>
<path d="M289.3 568.1h8.4l-4.2 7.8z"/>
<path d="M283.3 575.1h8.4l-4.2 7.8z"/>
<path d="M295.3 575.1h8.4l-4.2 7.8z"/>
<path d="M289.3 573.1h8.4l-4.2 7.8z"/>
<path d="M286.8 580.1h8.4l-4.2 7.8z"/>
<path d="M291.8 580.1h8.4l-4.2 7.8z"/>
<path d="M289.3 586.1h8.4l-4.2 7.8z"/>
<path d="M282.2 596.9h8.4l-4.2 7.8z"/>
<path d="M289.3 596.9h8.4l-4.2 7.8z"/>
<path d="M296.4 596.9h8.4l-4.2 7.8z"/>
<path d="M280.9 604.3h8.4l-4.2 7.8z"/>
<path d="M283.1 609.4h8.4l-4.2 7.8z"/>
<path d="M296.0 609.4h8.4l-4.2 7.8z"/>
<path d="M286.7 613.7h8.4l-4.2 7.8z"/>
<path d="M294.6 612.3h8.4l-4.2 7.8z"/>
<path d="M283.8 616.1h8.4l-4.2 7.8z"/>
<path d="M289.6 618.6h8.4l-4.2 7.8z"/>
<path d="M292.4 623.1h8.4l-4.2 7.8z"/>
<path d="M295.3 626.0h8.4l-4.2 7.8z"/>
<path d="M283.5 630.3h8.4l-4.2 7.8z"/>
</g>
<line x1="293.60" y1="514.40" x2="293.60" y2="606.00" stroke="#000" stroke-width="2.8"/>
<line x1="285.80" y1="514.40" x2="301.40" y2="514.40" stroke="#000" stroke-width="2.8"/>
<line x1="285.80" y1="606.00" x2="301.40" y2="606.00" stroke="#000" stroke-width="2.8"/>
<line x1="281.60" y1="560.20" x2="305.60" y2="560.20" stroke="#000" stroke-width="3.4"/>
<g fill="#000" stroke="#000" stroke-width="1" stroke-linejoin="round">
<path d="M329.6 474.0h8.4l-4.2 7.8z"/>
<path d="M329.6 499.0h8.4l-4.2 7.8z"/>
<path d="M337.7 541.3h8.4l-4.2 7.8z"/>
<path d="M322.3 545.1h8.4l-4.2 7.8z"/>
<path d="M329.6 548.1h8.4l-4.2 7.8z"/>
<path d="M335.3 553.6h8.4l-4.2 7.8z"/>
<path d="M324.8 557.1h8.4l-4.2 7.8z"/>
<path d="M336.8 560.1h8.4l-4.2 7.8z"/>
<path d="M322.8 562.1h8.4l-4.2 7.8z"/>
<path d="M329.8 562.1h8.4l-4.2 7.8z"/>
<path d="M336.8 562.1h8.4l-4.2 7.8z"/>
<path d="M326.3 566.1h8.4l-4.2 7.8z"/>
<path d="M333.3 566.1h8.4l-4.2 7.8z"/>
<path d="M322.8 570.1h8.4l-4.2 7.8z"/>
<path d="M329.8 570.1h8.4l-4.2 7.8z"/>
<path d="M336.8 570.1h8.4l-4.2 7.8z"/>
<path d="M322.8 574.1h8.4l-4.2 7.8z"/>
<path d="M329.8 574.1h8.4l-4.2 7.8z"/>
<path d="M336.8 574.1h8.4l-4.2 7.8z"/>
<path d="M326.3 578.1h8.4l-4.2 7.8z"/>
<path d="M333.3 578.1h8.4l-4.2 7.8z"/>
<path d="M326.8 582.1h8.4l-4.2 7.8z"/>
<path d="M332.8 582.1h8.4l-4.2 7.8z"/>
<path d="M329.8 585.1h8.4l-4.2 7.8z"/>
<path d="M321.9 589.9h8.4l-4.2 7.8z"/>
<path d="M329.8 589.9h8.4l-4.2 7.8z"/>
<path d="M337.7 589.9h8.4l-4.2 7.8z"/>
<path d="M325.8 594.6h8.4l-4.2 7.8z"/>
<path d="M333.8 594.6h8.4l-4.2 7.8z"/>
<path d="M321.1 598.6h8.4l-4.2 7.8z"/>
<path d="M326.9 598.6h8.4l-4.2 7.8z"/>
<path d="M332.7 598.6h8.4l-4.2 7.8z"/>
<path d="M338.5 598.6h8.4l-4.2 7.8z"/>
<path d="M326.8 603.1h8.4l-4.2 7.8z"/>
<path d="M332.8 603.1h8.4l-4.2 7.8z"/>
<path d="M329.8 607.9h8.4l-4.2 7.8z"/>
<path d="M322.8 617.1h8.4l-4.2 7.8z"/>
<path d="M329.8 617.1h8.4l-4.2 7.8z"/>
<path d="M336.8 617.1h8.4l-4.2 7.8z"/>
<path d="M322.2 621.1h8.4l-4.2 7.8z"/>
<path d="M329.8 621.1h8.4l-4.2 7.8z"/>
<path d="M337.4 621.1h8.4l-4.2 7.8z"/>
<path d="M325.8 625.1h8.4l-4.2 7.8z"/>
<path d="M333.8 625.1h8.4l-4.2 7.8z"/>
<path d="M322.6 629.1h8.4l-4.2 7.8z"/>
<path d="M329.8 629.1h8.4l-4.2 7.8z"/>
<path d="M337.0 629.1h8.4l-4.2 7.8z"/>
<path d="M322.0 633.1h8.4l-4.2 7.8z"/>
<path d="M329.8 633.1h8.4l-4.2 7.8z"/>
<path d="M337.6 633.1h8.4l-4.2 7.8z"/>
<path d="M321.1 637.1h8.4l-4.2 7.8z"/>
<path d="M326.9 637.1h8.4l-4.2 7.8z"/>
<path d="M332.7 637.1h8.4l-4.2 7.8z"/>
<path d="M338.5 637.1h8.4l-4.2 7.8z"/>
<path d="M322.8 641.1h8.4l-4.2 7.8z"/>
<path d="M329.8 641.1h8.4l-4.2 7.8z"/>
<path d="M336.8 641.1h8.4l-4.2 7.8z"/>
<path d="M323.4 645.1h8.4l-4.2 7.8z"/>
<path d="M329.8 645.1h8.4l-4.2 7.8z"/>
<path d="M336.2 645.1h8.4l-4.2 7.8z"/>
<path d="M326.3 649.1h8.4l-4.2 7.8z"/>
<path d="M333.3 649.1h8.4l-4.2 7.8z"/>
<path d="M327.6 652.6h8.4l-4.2 7.8z"/>
<path d="M332.1 652.6h8.4l-4.2 7.8z"/>
<path d="M329.8 655.7h8.4l-4.2 7.8z"/>
</g>
<line x1="334.00" y1="566.00" x2="334.00" y2="639.00" stroke="#000" stroke-width="2.8"/>
<line x1="326.50" y1="566.00" x2="341.50" y2="566.00" stroke="#000" stroke-width="2.8"/>
<line x1="326.50" y1="639.00" x2="341.50" y2="639.00" stroke="#000" stroke-width="2.8"/>
<line x1="321.20" y1="602.50" x2="346.80" y2="602.50" stroke="#000" stroke-width="3.4"/>
<g fill="#7c7c7c" stroke="#000" stroke-width="1.9">
<circle cx="376.2" cy="438.8" r="3.45"/>
<circle cx="376.2" cy="491.9" r="3.45"/>
<circle cx="368.5" cy="494.6" r="3.45"/>
<circle cx="383.8" cy="496.5" r="3.45"/>
<circle cx="376.2" cy="504.8" r="3.45"/>
<circle cx="370.4" cy="513.1" r="3.45"/>
<circle cx="387.7" cy="522.5" r="3.45"/>
<circle cx="381.5" cy="525.0" r="3.45"/>
<circle cx="370.0" cy="527.0" r="3.45"/>
<circle cx="369.0" cy="532.7" r="3.45"/>
<circle cx="376.7" cy="534.6" r="3.45"/>
<circle cx="383.8" cy="537.9" r="3.45"/>
<circle cx="364.2" cy="546.5" r="3.45"/>
<circle cx="375.8" cy="549.0" r="3.45"/>
<circle cx="368.5" cy="552.9" r="3.45"/>
<circle cx="383.8" cy="553.5" r="3.45"/>
<circle cx="371.0" cy="558.0" r="3.45"/>
<circle cx="379.6" cy="559.4" r="3.45"/>
<circle cx="376.2" cy="564.2" r="3.45"/>
<circle cx="370.4" cy="585.0" r="3.45"/>
<circle cx="387.7" cy="587.0" r="3.45"/>
<circle cx="382.0" cy="597.0" r="3.45"/>
<circle cx="364.8" cy="603.7" r="3.45"/>
<circle cx="370.4" cy="613.3" r="3.45"/>
<circle cx="382.0" cy="620.0" r="3.45"/>
<circle cx="368.5" cy="632.5" r="3.45"/>
<circle cx="383.5" cy="633.0" r="3.45"/>
<circle cx="376.2" cy="637.3" r="3.45"/>
<circle cx="370.0" cy="642.1" r="3.45"/>
<circle cx="381.5" cy="645.0" r="3.45"/>
<circle cx="369.0" cy="647.9" r="3.45"/>
<circle cx="376.7" cy="649.8" r="3.45"/>
<circle cx="383.0" cy="652.0" r="3.45"/>
<circle cx="368.1" cy="656.5" r="3.45"/>
<circle cx="384.4" cy="656.5" r="3.45"/>
<circle cx="379.6" cy="660.4" r="3.45"/>
<circle cx="372.0" cy="660.0" r="3.45"/>
<circle cx="373.8" cy="664.2" r="3.45"/>
<circle cx="376.7" cy="665.8" r="3.45"/>
<circle cx="381.0" cy="663.0" r="3.45"/>
</g>
<line x1="376.20" y1="528.80" x2="376.20" y2="650.40" stroke="#000" stroke-width="2.8"/>
<line x1="367.50" y1="528.80" x2="384.90" y2="528.80" stroke="#000" stroke-width="2.8"/>
<line x1="367.50" y1="650.40" x2="384.90" y2="650.40" stroke="#000" stroke-width="2.8"/>
<line x1="362.20" y1="589.60" x2="390.20" y2="589.60" stroke="#000" stroke-width="3.3"/>
<g fill="#7c7c7c" stroke="#000" stroke-width="1.9">
<circle cx="409.4" cy="572.9" r="3.45"/>
<circle cx="424.4" cy="577.7" r="3.45"/>
<circle cx="417.1" cy="584.0" r="3.45"/>
<circle cx="409.4" cy="591.2" r="3.45"/>
<circle cx="424.4" cy="591.2" r="3.45"/>
<circle cx="416.6" cy="597.5" r="3.45"/>
<circle cx="409.0" cy="602.0" r="3.45"/>
<circle cx="416.6" cy="602.0" r="3.45"/>
<circle cx="424.2" cy="602.0" r="3.45"/>
<circle cx="412.8" cy="606.0" r="3.45"/>
<circle cx="420.4" cy="606.0" r="3.45"/>
<circle cx="409.0" cy="610.0" r="3.45"/>
<circle cx="416.6" cy="610.0" r="3.45"/>
<circle cx="424.2" cy="610.0" r="3.45"/>
<circle cx="412.8" cy="614.0" r="3.45"/>
<circle cx="420.4" cy="614.0" r="3.45"/>
<circle cx="409.0" cy="618.0" r="3.45"/>
<circle cx="416.6" cy="618.0" r="3.45"/>
<circle cx="424.2" cy="618.0" r="3.45"/>
<circle cx="412.8" cy="622.0" r="3.45"/>
<circle cx="420.4" cy="622.0" r="3.45"/>
<circle cx="409.0" cy="626.0" r="3.45"/>
<circle cx="416.6" cy="626.0" r="3.45"/>
<circle cx="424.2" cy="626.0" r="3.45"/>
<circle cx="412.8" cy="630.0" r="3.45"/>
<circle cx="420.4" cy="630.0" r="3.45"/>
<circle cx="409.0" cy="634.0" r="3.45"/>
<circle cx="416.6" cy="634.0" r="3.45"/>
<circle cx="424.2" cy="634.0" r="3.45"/>
<circle cx="412.8" cy="638.0" r="3.45"/>
<circle cx="420.4" cy="638.0" r="3.45"/>
<circle cx="409.0" cy="642.0" r="3.45"/>
<circle cx="416.6" cy="642.0" r="3.45"/>
<circle cx="424.2" cy="642.0" r="3.45"/>
<circle cx="412.8" cy="646.0" r="3.45"/>
<circle cx="420.4" cy="646.0" r="3.45"/>
<circle cx="412.8" cy="650.0" r="3.45"/>
<circle cx="420.4" cy="650.0" r="3.45"/>
<circle cx="411.0" cy="667.1" r="3.45"/>
<circle cx="422.5" cy="666.5" r="3.45"/>
<circle cx="417.1" cy="669.6" r="3.45"/>
</g>
<line x1="416.60" y1="599.20" x2="416.60" y2="647.90" stroke="#000" stroke-width="2.8"/>
<line x1="408.60" y1="599.20" x2="424.60" y2="599.20" stroke="#000" stroke-width="2.8"/>
<line x1="408.60" y1="647.90" x2="424.60" y2="647.90" stroke="#000" stroke-width="2.8"/>
<line x1="403.60" y1="623.80" x2="429.60" y2="623.80" stroke="#000" stroke-width="3.3"/>
<g fill="#a3a3a3" stroke="#353535" stroke-width="1.1">
<path d="M448.5 577.7l3.8 3.8l-3.8 3.8l-3.8 -3.8z"/>
<path d="M464.2 581.6l3.8 3.8l-3.8 3.8l-3.8 -3.8z"/>
<path d="M451.7 582.5l3.8 3.8l-3.8 3.8l-3.8 -3.8z"/>
<path d="M460.4 585.4l3.8 3.8l-3.8 3.8l-3.8 -3.8z"/>
<path d="M456.2 588.9l3.8 3.8l-3.8 3.8l-3.8 -3.8z"/>
<path d="M449.0 596.2l3.8 3.8l-3.8 3.8l-3.8 -3.8z"/>
<path d="M456.2 596.2l3.8 3.8l-3.8 3.8l-3.8 -3.8z"/>
<path d="M463.4 596.2l3.8 3.8l-3.8 3.8l-3.8 -3.8z"/>
<path d="M452.6 600.2l3.8 3.8l-3.8 3.8l-3.8 -3.8z"/>
<path d="M459.8 600.2l3.8 3.8l-3.8 3.8l-3.8 -3.8z"/>
<path d="M449.0 604.2l3.8 3.8l-3.8 3.8l-3.8 -3.8z"/>
<path d="M456.2 604.2l3.8 3.8l-3.8 3.8l-3.8 -3.8z"/>
<path d="M463.4 604.2l3.8 3.8l-3.8 3.8l-3.8 -3.8z"/>
<path d="M452.6 608.2l3.8 3.8l-3.8 3.8l-3.8 -3.8z"/>
<path d="M459.8 608.2l3.8 3.8l-3.8 3.8l-3.8 -3.8z"/>
<path d="M449.0 612.2l3.8 3.8l-3.8 3.8l-3.8 -3.8z"/>
<path d="M456.2 612.2l3.8 3.8l-3.8 3.8l-3.8 -3.8z"/>
<path d="M463.4 612.2l3.8 3.8l-3.8 3.8l-3.8 -3.8z"/>
<path d="M452.6 616.2l3.8 3.8l-3.8 3.8l-3.8 -3.8z"/>
<path d="M459.8 616.2l3.8 3.8l-3.8 3.8l-3.8 -3.8z"/>
<path d="M449.0 620.2l3.8 3.8l-3.8 3.8l-3.8 -3.8z"/>
<path d="M456.2 620.2l3.8 3.8l-3.8 3.8l-3.8 -3.8z"/>
<path d="M463.4 620.2l3.8 3.8l-3.8 3.8l-3.8 -3.8z"/>
<path d="M452.6 624.2l3.8 3.8l-3.8 3.8l-3.8 -3.8z"/>
<path d="M459.8 624.2l3.8 3.8l-3.8 3.8l-3.8 -3.8z"/>
<path d="M449.0 628.2l3.8 3.8l-3.8 3.8l-3.8 -3.8z"/>
<path d="M456.2 628.2l3.8 3.8l-3.8 3.8l-3.8 -3.8z"/>
<path d="M463.4 628.2l3.8 3.8l-3.8 3.8l-3.8 -3.8z"/>
<path d="M452.6 632.2l3.8 3.8l-3.8 3.8l-3.8 -3.8z"/>
<path d="M459.8 632.2l3.8 3.8l-3.8 3.8l-3.8 -3.8z"/>
<path d="M449.0 637.2l3.8 3.8l-3.8 3.8l-3.8 -3.8z"/>
<path d="M456.2 637.2l3.8 3.8l-3.8 3.8l-3.8 -3.8z"/>
<path d="M463.4 637.2l3.8 3.8l-3.8 3.8l-3.8 -3.8z"/>
<path d="M452.6 642.2l3.8 3.8l-3.8 3.8l-3.8 -3.8z"/>
<path d="M459.8 642.2l3.8 3.8l-3.8 3.8l-3.8 -3.8z"/>
<path d="M449.0 647.2l3.8 3.8l-3.8 3.8l-3.8 -3.8z"/>
<path d="M456.2 647.2l3.8 3.8l-3.8 3.8l-3.8 -3.8z"/>
<path d="M463.4 647.2l3.8 3.8l-3.8 3.8l-3.8 -3.8z"/>
<path d="M448.8 653.2l3.8 3.8l-3.8 3.8l-3.8 -3.8z"/>
<path d="M456.2 653.2l3.8 3.8l-3.8 3.8l-3.8 -3.8z"/>
<path d="M463.6 653.2l3.8 3.8l-3.8 3.8l-3.8 -3.8z"/>
<path d="M449.6 657.2l3.8 3.8l-3.8 3.8l-3.8 -3.8z"/>
<path d="M456.2 657.2l3.8 3.8l-3.8 3.8l-3.8 -3.8z"/>
<path d="M462.8 657.2l3.8 3.8l-3.8 3.8l-3.8 -3.8z"/>
<path d="M452.9 661.2l3.8 3.8l-3.8 3.8l-3.8 -3.8z"/>
<path d="M459.5 661.2l3.8 3.8l-3.8 3.8l-3.8 -3.8z"/>
<path d="M456.2 664.5l3.8 3.8l-3.8 3.8l-3.8 -3.8z"/>
</g>
<line x1="456.20" y1="602.10" x2="456.20" y2="654.60" stroke="#000" stroke-width="3.1"/>
<line x1="448.60" y1="602.10" x2="463.80" y2="602.10" stroke="#000" stroke-width="3.1"/>
<line x1="448.60" y1="654.60" x2="463.80" y2="654.60" stroke="#000" stroke-width="3.1"/>
<line x1="442.90" y1="628.70" x2="469.50" y2="628.70" stroke="#000" stroke-width="3.5"/>
<g fill="#a3a3a3" stroke="#353535" stroke-width="1.1">
<path d="M497.0 571.6l3.8 3.8l-3.8 3.8l-3.8 -3.8z"/>
<path d="M489.6 619.2l3.8 3.8l-3.8 3.8l-3.8 -3.8z"/>
<path d="M497.0 619.2l3.8 3.8l-3.8 3.8l-3.8 -3.8z"/>
<path d="M504.4 619.2l3.8 3.8l-3.8 3.8l-3.8 -3.8z"/>
<path d="M493.3 623.2l3.8 3.8l-3.8 3.8l-3.8 -3.8z"/>
<path d="M500.7 623.2l3.8 3.8l-3.8 3.8l-3.8 -3.8z"/>
<path d="M489.6 627.2l3.8 3.8l-3.8 3.8l-3.8 -3.8z"/>
<path d="M497.0 627.2l3.8 3.8l-3.8 3.8l-3.8 -3.8z"/>
<path d="M504.4 627.2l3.8 3.8l-3.8 3.8l-3.8 -3.8z"/>
<path d="M493.3 631.2l3.8 3.8l-3.8 3.8l-3.8 -3.8z"/>
<path d="M500.7 631.2l3.8 3.8l-3.8 3.8l-3.8 -3.8z"/>
<path d="M489.6 635.2l3.8 3.8l-3.8 3.8l-3.8 -3.8z"/>
<path d="M497.0 635.2l3.8 3.8l-3.8 3.8l-3.8 -3.8z"/>
<path d="M504.4 635.2l3.8 3.8l-3.8 3.8l-3.8 -3.8z"/>
<path d="M488.0 639.2l3.8 3.8l-3.8 3.8l-3.8 -3.8z"/>
<path d="M494.0 639.2l3.8 3.8l-3.8 3.8l-3.8 -3.8z"/>
<path d="M500.0 639.2l3.8 3.8l-3.8 3.8l-3.8 -3.8z"/>
<path d="M506.0 639.2l3.8 3.8l-3.8 3.8l-3.8 -3.8z"/>
<path d="M489.6 643.2l3.8 3.8l-3.8 3.8l-3.8 -3.8z"/>
<path d="M497.0 643.2l3.8 3.8l-3.8 3.8l-3.8 -3.8z"/>
<path d="M504.4 643.2l3.8 3.8l-3.8 3.8l-3.8 -3.8z"/>
<path d="M493.3 647.2l3.8 3.8l-3.8 3.8l-3.8 -3.8z"/>
<path d="M500.7 647.2l3.8 3.8l-3.8 3.8l-3.8 -3.8z"/>
<path d="M489.6 651.2l3.8 3.8l-3.8 3.8l-3.8 -3.8z"/>
<path d="M497.0 651.2l3.8 3.8l-3.8 3.8l-3.8 -3.8z"/>
<path d="M504.4 651.2l3.8 3.8l-3.8 3.8l-3.8 -3.8z"/>
<path d="M489.6 657.7l3.8 3.8l-3.8 3.8l-3.8 -3.8z"/>
<path d="M497.0 657.7l3.8 3.8l-3.8 3.8l-3.8 -3.8z"/>
<path d="M504.4 657.7l3.8 3.8l-3.8 3.8l-3.8 -3.8z"/>
<path d="M490.8 661.7l3.8 3.8l-3.8 3.8l-3.8 -3.8z"/>
<path d="M497.0 661.7l3.8 3.8l-3.8 3.8l-3.8 -3.8z"/>
<path d="M503.2 661.7l3.8 3.8l-3.8 3.8l-3.8 -3.8z"/>
<path d="M494.0 665.2l3.8 3.8l-3.8 3.8l-3.8 -3.8z"/>
<path d="M500.0 665.2l3.8 3.8l-3.8 3.8l-3.8 -3.8z"/>
</g>
<line x1="497.00" y1="626.70" x2="497.00" y2="659.80" stroke="#000" stroke-width="3.1"/>
<line x1="489.30" y1="626.70" x2="504.70" y2="626.70" stroke="#000" stroke-width="3.1"/>
<line x1="489.30" y1="659.80" x2="504.70" y2="659.80" stroke="#000" stroke-width="3.1"/>
<line x1="484.20" y1="643.10" x2="509.80" y2="643.10" stroke="#000" stroke-width="3.5"/>
<line x1="77.2" y1="640.9" x2="517" y2="640.9" stroke="#000" stroke-width="3.0" stroke-linecap="round" stroke-dasharray="0.01 6.72"/>
<line x1="70.30" y1="422.70" x2="70.30" y2="676.10" stroke="#000" stroke-width="3.4"/>
<line x1="63.20" y1="674.40" x2="517.30" y2="674.40" stroke="#000" stroke-width="3.0"/>
<line x1="63.20" y1="641.04" x2="70.30" y2="641.04" stroke="#000" stroke-width="2.8"/>
<line x1="63.20" y1="591.00" x2="70.30" y2="591.00" stroke="#000" stroke-width="2.8"/>
<line x1="63.20" y1="507.60" x2="70.30" y2="507.60" stroke="#000" stroke-width="2.8"/>
<line x1="63.20" y1="424.20" x2="70.30" y2="424.20" stroke="#000" stroke-width="2.8"/>
<line x1="90.00" y1="674.40" x2="90.00" y2="680.40" stroke="#000" stroke-width="2.9"/>
<line x1="130.30" y1="674.40" x2="130.30" y2="680.40" stroke="#000" stroke-width="2.9"/>
<line x1="171.30" y1="674.40" x2="171.30" y2="680.40" stroke="#000" stroke-width="2.9"/>
<line x1="212.20" y1="674.40" x2="212.20" y2="680.40" stroke="#000" stroke-width="2.9"/>
<line x1="252.60" y1="674.40" x2="252.60" y2="680.40" stroke="#000" stroke-width="2.9"/>
<line x1="293.60" y1="674.40" x2="293.60" y2="680.40" stroke="#000" stroke-width="2.9"/>
<line x1="334.60" y1="674.40" x2="334.60" y2="680.40" stroke="#000" stroke-width="2.9"/>
<line x1="375.00" y1="674.40" x2="375.00" y2="680.40" stroke="#000" stroke-width="2.9"/>
<line x1="415.30" y1="674.40" x2="415.30" y2="680.40" stroke="#000" stroke-width="2.9"/>
<line x1="456.30" y1="674.40" x2="456.30" y2="680.40" stroke="#000" stroke-width="2.9"/>
<line x1="497.00" y1="674.40" x2="497.00" y2="680.40" stroke="#000" stroke-width="2.9"/>
<rect x="108.95" y="672.30" width="3.30" height="3.50" fill="#8c8c8c"/>
<rect x="190.15" y="672.30" width="3.30" height="3.50" fill="#8c8c8c"/>
<rect x="272.25" y="672.30" width="3.30" height="3.50" fill="#8c8c8c"/>
<rect x="352.25" y="672.30" width="3.30" height="3.50" fill="#8c8c8c"/>
<rect x="435.05" y="672.30" width="3.30" height="3.50" fill="#8c8c8c"/>
<text x="43.44" y="646.84" font-size="16.5" textLength="17.81" lengthAdjust="spacingAndGlyphs">20</text>
<text x="43.43" y="596.80" font-size="16.5" textLength="17.82" lengthAdjust="spacingAndGlyphs">50</text>
<text x="34.29" y="513.40" font-size="16.5" textLength="26.98" lengthAdjust="spacingAndGlyphs">100</text>
<text x="34.29" y="430.00" font-size="16.5" textLength="26.98" lengthAdjust="spacingAndGlyphs">150</text>
<text x="50.34" y="680.00" font-size="16.5" textLength="9.85" lengthAdjust="spacingAndGlyphs">0</text>
<text transform="translate(23.20,628.00) rotate(-90)" x="-0.08" y="0" font-size="16.5" textLength="166.74" lengthAdjust="spacingAndGlyphs">γH2AX Intensity (A.U.)</text>
<text x="81.45" y="696.40" font-size="16" textLength="21.68" lengthAdjust="spacingAndGlyphs">NT</text>
<text x="125.89" y="697.50" font-size="16" textLength="8.90" lengthAdjust="spacingAndGlyphs">1</text>
<text x="163.93" y="697.50" font-size="16" textLength="21.03" lengthAdjust="spacingAndGlyphs">R6</text>
<text x="208.64" y="695.75" font-size="16" textLength="8.90" lengthAdjust="spacingAndGlyphs">1</text>
<text x="245.24" y="695.75" font-size="16" textLength="20.20" lengthAdjust="spacingAndGlyphs">R6</text>
<text x="289.89" y="697.30" font-size="16" textLength="8.90" lengthAdjust="spacingAndGlyphs">1</text>
<text x="326.93" y="697.00" font-size="16" textLength="21.03" lengthAdjust="spacingAndGlyphs">R6</text>
<text x="371.14" y="697.00" font-size="16" textLength="8.90" lengthAdjust="spacingAndGlyphs">1</text>
<text x="408.75" y="697.00" font-size="16" textLength="20.70" lengthAdjust="spacingAndGlyphs">R6</text>
<text x="452.14" y="695.75" font-size="16" textLength="8.90" lengthAdjust="spacingAndGlyphs">1</text>
<text x="490.95" y="695.20" font-size="16" textLength="20.75" lengthAdjust="spacingAndGlyphs">R6</text>
<line x1="121.25" y1="708.80" x2="186.25" y2="708.80" stroke="#000" stroke-width="1.7"/>
<line x1="198.75" y1="708.80" x2="263.00" y2="708.80" stroke="#000" stroke-width="1.7"/>
<line x1="281.25" y1="708.80" x2="347.00" y2="708.80" stroke="#000" stroke-width="1.7"/>
<line x1="371.25" y1="708.80" x2="426.60" y2="708.80" stroke="#000" stroke-width="1.7"/>
<line x1="445.50" y1="708.80" x2="510.00" y2="708.80" stroke="#000" stroke-width="1.7"/>
<text x="116.92" y="728.90" font-size="16" textLength="76.51" lengthAdjust="spacingAndGlyphs">Topotecan</text>
<text x="200.18" y="728.75" font-size="16" textLength="61.31" lengthAdjust="spacingAndGlyphs">LMP744</text>
<text x="283.45" y="728.75" font-size="16" textLength="60.35" lengthAdjust="spacingAndGlyphs">LMP517</text>
<text x="368.43" y="728.75" font-size="16" textLength="61.68" lengthAdjust="spacingAndGlyphs">LMP135</text>
<text x="445.92" y="728.75" font-size="16" textLength="61.82" lengthAdjust="spacingAndGlyphs">LMP134</text>
</g>
</svg>
</body>
</html>
